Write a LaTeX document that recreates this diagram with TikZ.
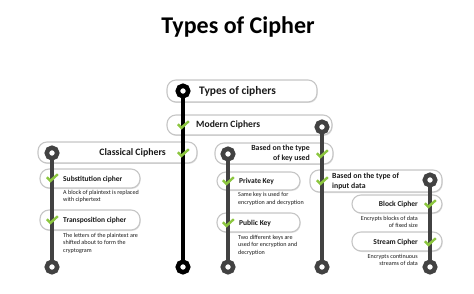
\documentclass[tikz,border=0pt]{standalone}
\usepackage{fontspec}
\setmainfont{Carlito}
\usetikzlibrary{shadows}
\definecolor{ckgreen}{HTML}{8CC63F}
\definecolor{linegray}{HTML}{424242}
\definecolor{boxborder}{HTML}{C6C6C6}
\definecolor{txt}{HTML}{1A1A1A}
\begin{document}
\begin{tikzpicture}[x=1pt,y=-1pt,
  box/.style={draw=boxborder, line width=1.1pt, fill=white, rounded corners=9pt, inner sep=0pt,
    drop shadow={shadow xshift=0.7pt, shadow yshift=-1pt, opacity=0.25}},
  ring/.style={circle, draw=linegray, line width=4.5pt, fill=white, minimum size=10.5pt, inner sep=0pt},
  bring/.style={ring, draw=black},
  rail/.style={line width=4.5pt, draw=linegray},
  brail/.style={rail, draw=black},
  btxt/.style={font=\bfseries\fontsize{7.5}{9}\selectfont, text=txt, inner sep=0pt},
  dtxt/.style={font=\fontsize{6.1}{7.3}\selectfont, text=txt, inner sep=0pt},
  chk/.pic={\fill[ckgreen] (-6,0) -- (-4.2,-1.6) -- (-1.5,1) -- (5,-4.6) -- (6.6,-3) -- (-1.5,4.6) -- cycle;}
]
\useasboundingbox (0,0) rectangle (474,294);
% title
\node[font=\bfseries\fontsize{24}{28}\selectfont, inner sep=0pt] (title) at (238,27) {Types of Cipher};
% boxes
\node[box, minimum width=150pt, minimum height=22pt] (b1) at (242,91) {};
\node[box, minimum width=165pt, minimum height=20pt] (b2) at (249.5,125) {};
\node[box, minimum width=159pt, minimum height=21pt] (b3) at (117.5,152.5) {};
\node[box, minimum width=100pt, minimum height=19pt] (b4) at (90,178.5) {};
\node[box, minimum width=100pt, minimum height=20pt] (b5) at (90,220) {};
\node[box, minimum width=118pt, minimum height=21pt] (b6) at (274,153.5) {};
\node[box, minimum width=83pt, minimum height=18pt] (b7) at (258.5,181) {};
\node[box, minimum width=83pt, minimum height=19pt] (b8) at (258.5,222.5) {};
\node[box, minimum width=132pt, minimum height=22pt] (b9) at (376,181) {};
\node[box, minimum width=90pt, minimum height=18pt] (b10) at (397,204) {};
\node[box, minimum width=90pt, minimum height=19pt] (b11) at (397,241.5) {};
% rail points
\coordinate (p1) at (183,91);  \coordinate (q1) at (183,267);
\coordinate (p2) at (322,127); \coordinate (q2) at (322,267);
\coordinate (p3) at (52,153);  \coordinate (q3) at (52,267);
\coordinate (p4) at (228,154); \coordinate (q4) at (228,267);
\coordinate (p5) at (430,180); \coordinate (q5) at (430,267);
\draw[brail] (p1) -- (q1);
\draw[rail] (p2) -- (q2);
\draw[rail] (p3) -- (q3);
\draw[rail] (p4) -- (q4);
\draw[rail] (p5) -- (q5);
\node[bring] (r1) at (p1) {}; \node[bring] (s1) at (q1) {};
\node[ring] (r2) at (p2) {}; \node[ring] (s2) at (q2) {};
\node[ring] (r3) at (p3) {}; \node[ring] (s3) at (q3) {};
\node[ring] (r4) at (p4) {}; \node[ring] (s4) at (q4) {};
\node[ring] (r5) at (p5) {}; \node[ring] (s5) at (q5) {};
% checks
\pic at (183,125) {chk};
\pic at (183,153) {chk};
\pic at (52,178) {chk};
\pic at (52,220) {chk};
\pic at (322,154) {chk};
\pic at (228,181) {chk};
\pic at (228,223) {chk};
\pic at (322,181) {chk};
\pic at (430,204) {chk};
\pic at (430,242) {chk};
% box texts
\node[btxt, anchor=west, font=\bfseries\fontsize{11.5}{13}\selectfont] (t1) at (199,91) {Types of ciphers};
\node[btxt, anchor=west, font=\bfseries\fontsize{9.6}{11}\selectfont] (t2) at (196,125) {Modern Ciphers};
\node[btxt, anchor=east, font=\bfseries\fontsize{9.8}{11}\selectfont] (t3) at (166,153) {Classical Ciphers};
\node[btxt, anchor=west] (t4) at (63,179) {Substitution cipher};
\node[btxt, anchor=west] (t5) at (63,220) {Transposition cipher};
\node[btxt, anchor=east, align=right, font=\bfseries\fontsize{7.8}{9.5}\selectfont] (t6) at (310,153.5) {Based on the type\\of key used};
\node[btxt, anchor=west] (t7) at (239,181) {Private Key};
\node[btxt, anchor=west] (t8) at (239,223) {Public Key};
\node[btxt, anchor=west, align=left, font=\bfseries\fontsize{7.8}{9.5}\selectfont] (t9) at (332,181.5) {Based on the type of\\input data};
\node[btxt, anchor=east] (t10) at (418,204) {Block Cipher};
\node[btxt, anchor=east] (t11) at (418,242) {Stream Cipher};
% descriptions
\node[dtxt, anchor=north west, align=left] (d4) at (63,190) {A block of plaintext is replaced\\with ciphertext};
\node[dtxt, anchor=north west, align=left] (d5) at (63,233) {The letters of the plaintext are\\shifted about to form the\\cryptogram};
\node[dtxt, anchor=north west, align=left] (d7) at (238,192.5) {Same key is used for\\encryption and decryption};
\node[dtxt, anchor=north west, align=left] (d8) at (238,235) {Two different keys are\\used for encryption and\\decryption};
\node[dtxt, anchor=north east, align=right] (d10) at (418,216) {Encrypts blocks of data\\of fixed size};
\node[dtxt, anchor=north east, align=right] (d11) at (418,254) {Encrypts continuous\\streams of data};
\end{tikzpicture}
\end{document}
